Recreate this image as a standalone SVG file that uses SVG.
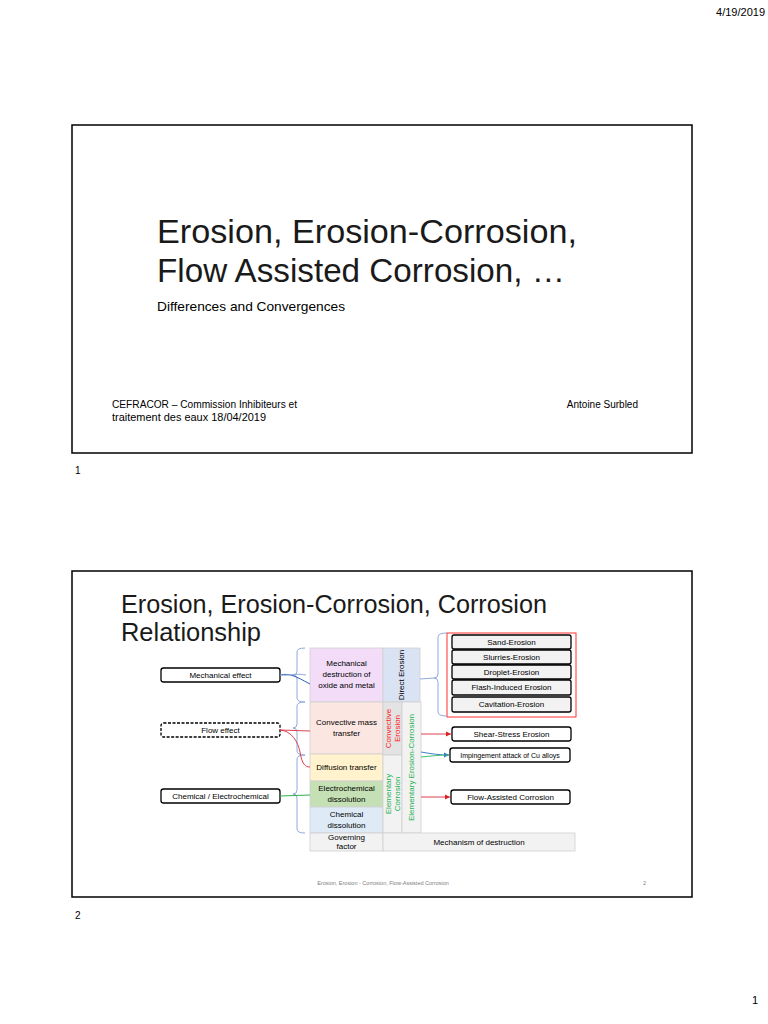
<svg xmlns="http://www.w3.org/2000/svg" width="768" height="1024" viewBox="0 0 768 1024">
<style>
text{font-family:"Liberation Sans",Arial,sans-serif;fill:#000}
.frame{fill:#fff;stroke:#000;stroke-width:1.5}
.cell{stroke:#d0d0d0;stroke-width:0.8}
.t{font-size:8px;text-anchor:middle}
.ttl{fill:#1a1a1a}
.lbox{fill:#fff;stroke:#000;stroke-width:1.3}
.rbox{fill:#f2f2f2;stroke:#000;stroke-width:1.3}
.brace{fill:none;stroke:#8faadc;stroke-width:1}
.con{fill:none;stroke-width:1}
</style>
<defs>
<marker id="ar" markerWidth="6" markerHeight="6" refX="5" refY="3" orient="auto" markerUnits="userSpaceOnUse"><path d="M0,0.5 L5,3 L0,5.5z" fill="#e02020"/></marker>
<marker id="ab" markerWidth="6" markerHeight="6" refX="5" refY="3" orient="auto" markerUnits="userSpaceOnUse"><path d="M0,0.5 L5,3 L0,5.5z" fill="#2f6fd0"/></marker>
</defs>
<rect width="768" height="1024" fill="#fff"/>
<text x="765" y="16" font-size="11" text-anchor="end">4/19/2019</text>
<text x="758" y="1004" font-size="11" text-anchor="end">1</text>

<!-- Slide 1 -->
<g id="slide1">
<rect class="frame" x="72" y="125" width="620" height="328"/>
<text class="ttl" x="157" y="243" font-size="34" textLength="420" lengthAdjust="spacingAndGlyphs">Erosion, Erosion-Corrosion,</text>
<text class="ttl" x="157" y="282" font-size="34" textLength="408" lengthAdjust="spacingAndGlyphs">Flow Assisted Corrosion, …</text>
<text x="157" y="311" font-size="13" textLength="188" lengthAdjust="spacingAndGlyphs">Differences and Convergences</text>
<text x="112" y="408" font-size="10" textLength="185" lengthAdjust="spacingAndGlyphs">CEFRACOR – Commission Inhibiteurs et</text>
<text x="112" y="421" font-size="10" textLength="154" lengthAdjust="spacingAndGlyphs">traitement des eaux 18/04/2019</text>
<text x="638" y="408" font-size="10" text-anchor="end">Antoine Surbled</text>
</g>
<text x="75" y="474" font-size="10">1</text>

<!-- Slide 2 -->
<g id="slide2">
<rect class="frame" x="72" y="571" width="620" height="326"/>
<text class="ttl" x="121" y="613" font-size="25" textLength="426" lengthAdjust="spacingAndGlyphs">Erosion, Erosion-Corrosion, Corrosion</text>
<text class="ttl" x="121" y="641" font-size="25" textLength="140" lengthAdjust="spacingAndGlyphs">Relationship</text>
<text x="383" y="885" font-size="5.5" text-anchor="middle" style="fill:#808080">Erosion, Erosion - Corrosion, Flow-Assisted Corrosion</text>
<text x="643" y="885" font-size="5.5" style="fill:#808080">2</text>
</g>
<text x="75" y="919" font-size="10">2</text>

<!-- Table cells -->
<g id="cell-mech">
<rect class="cell" x="310" y="648" width="73" height="54" fill="#f2dcf8"/>
<text class="t" x="346.5" y="666">Mechanical</text>
<text class="t" x="346.5" y="677">destruction of</text>
<text class="t" x="346.5" y="688">oxide and metal</text>
</g>
<g id="cell-direct">
<rect class="cell" x="383" y="648" width="37" height="54" fill="#dae3f3"/>
<text class="t" transform="translate(404,675) rotate(-90)">Direct Erosion</text>
</g>
<g id="cell-conv">
<rect class="cell" x="310" y="702" width="73" height="52" fill="#fce6e2"/>
<text class="t" x="346.5" y="725">Convective mass</text>
<text class="t" x="346.5" y="736">transfer</text>
</g>
<g id="cell-diff">
<rect class="cell" x="310" y="754" width="73" height="27" fill="#fff2cc"/>
<text class="t" x="346.5" y="770">Diffusion transfer</text>
</g>
<g id="cell-electro">
<rect class="cell" x="310" y="781" width="73" height="26" fill="#c5e0b4"/>
<text class="t" x="346.5" y="791">Electrochemical</text>
<text class="t" x="346.5" y="802">dissolution</text>
</g>
<g id="cell-chem">
<rect class="cell" x="310" y="807" width="73" height="26" fill="#deebf7"/>
<text class="t" x="346.5" y="817">Chemical</text>
<text class="t" x="346.5" y="828">dissolution</text>
</g>
<g id="cell-gov">
<rect class="cell" x="310" y="833" width="73" height="18" fill="#f2f2f2"/>
<text class="t" x="346.5" y="840">Governing</text>
<text class="t" x="346.5" y="849">factor</text>
</g>
<g id="cell-convero">
<rect class="cell" x="383" y="702" width="19" height="53" fill="#e3e3e3"/>
<text class="t" transform="translate(391,728.5) rotate(-90)" style="fill:#ff2020">Convective</text>
<text class="t" transform="translate(400,728.5) rotate(-90)" style="fill:#ff2020">Erosion</text>
</g>
<g id="cell-elemcorr">
<rect class="cell" x="383" y="755" width="19" height="78" fill="#f2f2f2"/>
<text class="t" transform="translate(391,794) rotate(-90)" style="fill:#22b14c">Elementary</text>
<text class="t" transform="translate(400,794) rotate(-90)" style="fill:#22b14c">Corrosion</text>
</g>
<g id="cell-elemerocorr">
<rect class="cell" x="402" y="702" width="19" height="131" fill="#f2f2f2"/>
<text class="t" transform="translate(414,767.5) rotate(-90)" style="fill:#22b14c">Elementary Erosion-Corrosion</text>
</g>
<g id="cell-mechanism">
<rect class="cell" x="383" y="833" width="192" height="18" fill="#f2f2f2"/>
<text class="t" x="479" y="845">Mechanism of destruction</text>
</g>

<!-- Left boxes -->
<g id="mechanical-effect">
<rect class="lbox" x="161" y="668" width="119" height="14" rx="2.5"/>
<text class="t" x="220.5" y="678">Mechanical effect</text>
</g>
<g id="flow-effect">
<rect class="lbox" x="161" y="723" width="119" height="14" rx="2.5" stroke-dasharray="3,1.5"/>
<text class="t" x="220.5" y="733">Flow effect</text>
</g>
<g id="chemical-electrochemical">
<rect class="lbox" x="161" y="789" width="119" height="14" rx="2.5"/>
<text class="t" x="220.5" y="799">Chemical / Electrochemical</text>
</g>

<!-- Right boxes -->
<g id="erosion-group">
<rect x="447" y="633" width="129" height="84" fill="none" stroke="#ff3030" stroke-width="1"/>
</g>
<g id="sand-erosion">
<rect class="rbox" x="452" y="635" width="119" height="14" rx="2"/>
<text class="t" x="511.5" y="644.5">Sand-Erosion</text>
</g>
<g id="slurries-erosion">
<rect class="rbox" x="452" y="650" width="119" height="14" rx="2"/>
<text class="t" x="511.5" y="659.5">Slurries-Erosion</text>
</g>
<g id="droplet-erosion">
<rect class="rbox" x="452" y="665" width="119" height="14" rx="2"/>
<text class="t" x="511.5" y="674.5">Droplet-Erosion</text>
</g>
<g id="flash-induced-erosion">
<rect class="rbox" x="452" y="680" width="119" height="15" rx="2"/>
<text class="t" x="511.5" y="690">Flash-Induced Erosion</text>
</g>
<g id="cavitation-erosion">
<rect class="rbox" x="452" y="697" width="119" height="15" rx="2"/>
<text class="t" x="511.5" y="707">Cavitation-Erosion</text>
</g>
<g id="shear-stress-erosion">
<rect class="lbox" x="452" y="727" width="119" height="14" rx="2.5"/>
<text class="t" x="511.5" y="737">Shear-Stress Erosion</text>
</g>
<g id="impingement">
<rect class="lbox" x="450" y="748" width="120" height="14" rx="2.5"/>
<text class="t" x="510" y="758" style="font-size:7px">Impingement attack of Cu alloys</text>
</g>
<g id="flow-assisted-corrosion">
<rect class="lbox" x="451" y="790" width="119" height="14" rx="2.5"/>
<text class="t" x="510.5" y="800">Flow-Assisted Corrosion</text>
</g>

<!-- Connectors and braces -->
<g id="connectors">
<path class="brace" d="M305,648 Q297,648 297,652 L297,671 Q297,675 293,675 Q297,675 297,679 L297,698 Q297,702 305,702"/>
<path class="brace" d="M305,702 Q297,702 297,706 L297,724 Q297,728 293,728 Q297,728 297,732 L297,751 Q297,755 305,755"/>
<path class="brace" d="M305,755 Q297,755 297,759 L297,790 Q297,794 293,794 Q297,794 297,798 L297,829 Q297,833 305,833"/>
<path class="brace" d="M447,633 Q438,633 438,637 L438,674 Q438,678 434,678 Q438,678 438,682 L438,712 Q438,716 447,716"/>
<path class="con" stroke="#2f5fc0" d="M280,675 C290,673 295,676 310,684"/>
<path class="con" stroke="#8faadc" d="M280,675 C288,676 296,673 306,675"/>
<path class="con" stroke="#e04050" d="M280,730 L310,731"/>
<path class="con" stroke="#e04050" d="M280,730 C292,731 298,742 300,752 C302,764 305,767 310,767"/>
<path class="con" stroke="#30b050" d="M280,796 L310,795"/>
<path class="con" stroke="#8faadc" d="M420,679 L434,678"/>
<path class="con" stroke="#e04050" d="M421,734 L451,734" marker-end="url(#ar)"/>
<path class="con" stroke="#4080d0" d="M421,752 C432,754 440,755 449,755" marker-end="url(#ab)"/>
<path class="con" stroke="#40c070" d="M421,757 C432,756 440,755 449,755"/>
<path class="con" stroke="#e04050" d="M421,797 L450,797" marker-end="url(#ar)"/>
</g>
</svg>
